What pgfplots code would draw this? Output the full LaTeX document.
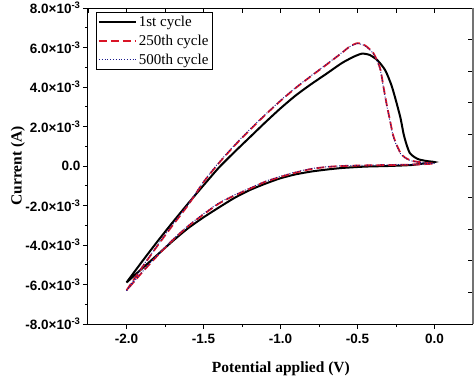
\documentclass[border=0pt]{standalone}
\usepackage{pgfplots}
\pgfplotsset{compat=1.18}
\usepackage{fontspec}
\setmainfont{Liberation Serif}
\newfontfamily\arial{Liberation Sans}

\definecolor{cycred}{rgb}{0.85,0.08,0.15}
\definecolor{cycblue}{rgb}{0.10,0.10,0.55}

\newcommand{\sci}[1]{#1\texttimes10\textsuperscript{-3}}

% cyclic voltammograms: forward sweep -2.0 -> 0.0 V, then back to -2.0 V
\pgfplotstableread{
x y
-2.00 -5.90e-3
-1.90 -4.85e-3
-1.80 -3.83e-3
-1.70 -2.85e-3
-1.60 -1.90e-3
-1.50 -0.98e-3
-1.40 -0.08e-3
-1.30 0.70e-3
-1.20 1.45e-3
-1.10 2.20e-3
-1.00 2.92e-3
-0.90 3.58e-3
-0.80 4.15e-3
-0.70 4.68e-3
-0.60 5.22e-3
-0.52 5.55e-3
-0.47 5.69e-3
-0.42 5.62e-3
-0.37 5.35e-3
-0.32 4.85e-3
-0.28 4.10e-3
-0.25 3.30e-3
-0.22 2.40e-3
-0.20 1.60e-3
-0.18 1.05e-3
-0.16 0.65e-3
-0.13 0.45e-3
-0.10 0.33e-3
-0.05 0.25e-3
0.00 0.20e-3
-0.05 0.15e-3
-0.15 0.05e-3
-0.30 0.00e-3
-0.45 -0.03e-3
-0.60 -0.10e-3
-0.70 -0.18e-3
-0.80 -0.28e-3
-0.90 -0.42e-3
-1.00 -0.62e-3
-1.10 -0.90e-3
-1.20 -1.22e-3
-1.30 -1.62e-3
-1.40 -2.10e-3
-1.50 -2.60e-3
-1.60 -3.15e-3
-1.70 -3.80e-3
-1.80 -4.50e-3
-1.90 -5.20e-3
-2.00 -5.90e-3
}\cycA

\pgfplotstableread{
x y
-2.00 -6.30e-3
-1.90 -5.15e-3
-1.80 -4.05e-3
-1.70 -3.00e-3
-1.60 -1.98e-3
-1.50 -0.82e-3
-1.40 0.15e-3
-1.30 1.02e-3
-1.20 1.82e-3
-1.10 2.58e-3
-1.00 3.30e-3
-0.90 3.96e-3
-0.80 4.56e-3
-0.70 5.14e-3
-0.60 5.74e-3
-0.55 6.05e-3
-0.50 6.22e-3
-0.45 6.10e-3
-0.40 5.75e-3
-0.37 5.30e-3
-0.35 4.85e-3
-0.33 3.95e-3
-0.31 3.10e-3
-0.29 2.35e-3
-0.27 1.60e-3
-0.25 1.15e-3
-0.22 0.65e-3
-0.19 0.42e-3
-0.15 0.27e-3
-0.10 0.20e-3
-0.05 0.15e-3
0.00 0.13e-3
-0.05 0.10e-3
-0.15 0.07e-3
-0.30 0.05e-3
-0.45 0.03e-3
-0.60 0.00e-3
-0.70 -0.05e-3
-0.80 -0.15e-3
-0.90 -0.33e-3
-1.00 -0.55e-3
-1.10 -0.80e-3
-1.20 -1.15e-3
-1.30 -1.50e-3
-1.40 -1.90e-3
-1.50 -2.45e-3
-1.60 -3.05e-3
-1.70 -3.75e-3
-1.80 -4.55e-3
-1.90 -5.40e-3
-2.00 -6.30e-3
}\cycB

\pgfplotstableread{
x y
-2.00 -6.32e-3
-1.90 -5.13e-3
-1.80 -4.02e-3
-1.70 -2.96e-3
-1.60 -1.94e-3
-1.50 -0.79e-3
-1.40 0.18e-3
-1.30 1.05e-3
-1.20 1.85e-3
-1.10 2.60e-3
-1.00 3.32e-3
-0.90 3.98e-3
-0.80 4.58e-3
-0.70 5.16e-3
-0.60 5.75e-3
-0.55 6.04e-3
-0.50 6.20e-3
-0.45 6.08e-3
-0.40 5.72e-3
-0.37 5.26e-3
-0.35 4.80e-3
-0.33 3.90e-3
-0.31 3.05e-3
-0.29 2.30e-3
-0.27 1.55e-3
-0.25 1.10e-3
-0.22 0.62e-3
-0.19 0.40e-3
-0.15 0.26e-3
-0.10 0.19e-3
-0.05 0.15e-3
0.00 0.13e-3
-0.05 0.11e-3
-0.15 0.08e-3
-0.30 0.06e-3
-0.45 0.04e-3
-0.60 0.01e-3
-0.70 -0.04e-3
-0.80 -0.13e-3
-0.90 -0.30e-3
-1.00 -0.52e-3
-1.10 -0.78e-3
-1.20 -1.12e-3
-1.30 -1.47e-3
-1.40 -1.87e-3
-1.50 -2.42e-3
-1.60 -3.02e-3
-1.70 -3.72e-3
-1.80 -4.52e-3
-1.90 -5.38e-3
-2.00 -6.32e-3
}\cycC

\begin{document}
\begin{tikzpicture}
\pgfplotsset{
  cvframe/.style={
    at={(0,0)}, anchor=south west,
    scale only axis, width=385pt, height=316pt,
    xmin=-2.25, xmax=0.25, ymin=-8e-3, ymax=8e-3,
    scaled y ticks=false, scaled x ticks=false,
  }
}
% mirrored top/right axes with inward ticks
\begin{axis}[cvframe,
  axis x line*=top, axis y line*=right,
  tick align=inside,
  xtick={-2.25,-2,-1.75,-1.5,-1.25,-1,-0.75,-0.5,-0.25,0,0.25},
  ytick={-8e-3,-6.4e-3,-4.8e-3,-3.2e-3,-1.6e-3,0,1.6e-3,3.2e-3,4.8e-3,6.4e-3,8e-3},
  xticklabels={}, yticklabels={},
  major tick length=5pt,
  tick style={black, line width=0.9pt},
  x axis line style={black, line width=1pt},
  y axis line style={black!55, line width=1.6pt},
]
\addplot[draw=none] coordinates {(0,0)};
\end{axis}
% main axes
\begin{axis}[cvframe,
  axis x line*=bottom, axis y line*=left,
  tick align=outside,
  axis line style={black, line width=1pt},
  tick style={black, line width=0.9pt},
  major tick length=5pt, minor tick length=3pt,
  xtick={-2,-1.5,-1,-0.5,0},
  xticklabels={-2.0,-1.5,-1.0,-0.5,0.0},
  minor x tick num=1,
  ytick={-8e-3,-6e-3,-4e-3,-2e-3,0,2e-3,4e-3,6e-3,8e-3},
  yticklabels={\sci{-8.0},\sci{-6.0},\sci{-4.0},\sci{-2.0},0.0,\sci{2.0},\sci{4.0},\sci{6.0},\sci{8.0}},
  minor y tick num=1,
  ticklabel style={font=\arial\bfseries\fontsize{13.5}{14}\selectfont},
  xticklabel style={yshift=-2pt},
  yticklabel style={xshift=1pt},
  xlabel={Potential applied (V)},
  ylabel={Current (A)},
  every axis x label/.style={at={(axis description cs:0.501,0)}, yshift=-45pt, anchor=center,
    font=\bfseries\fontsize{15.5}{16}\selectfont},
  every axis y label/.style={at={(axis description cs:0,0.5)}, xshift=-70pt, rotate=90, anchor=center,
    font=\bfseries\fontsize{15.5}{16}\selectfont},
  legend style={at={(axis description cs:0.0208,0.987)}, anchor=north west,
    draw=black, line width=0.8pt, font=\fontsize{15}{17}\selectfont,
    inner sep=1.5pt, row sep=3pt, cells={anchor=west}},
  legend cell align=left,
  legend image code/.code={\draw[#1] (0pt,0pt) -- (37pt,0pt);},
]
\addplot[black, line width=2pt, smooth, tension=0.4] table[x=x,y=y] {\cycA};
\addlegendentry{1st cycle}
\addplot[cycred, line width=1.8pt, dash pattern=on 8pt off 4pt, smooth, tension=0.4] table[x=x,y=y] {\cycB};
\addlegendentry{250th cycle}
\addplot[cycblue, line width=0.9pt, dash pattern=on 1pt off 1.8pt, smooth, tension=0.4] table[x=x,y=y] {\cycC};
\addlegendentry{500th cycle}
\end{axis}
\pgfresetboundingbox
\path[use as bounding box] (-88pt,-54pt) rectangle (386pt,324pt);
\end{tikzpicture}
\end{document}
